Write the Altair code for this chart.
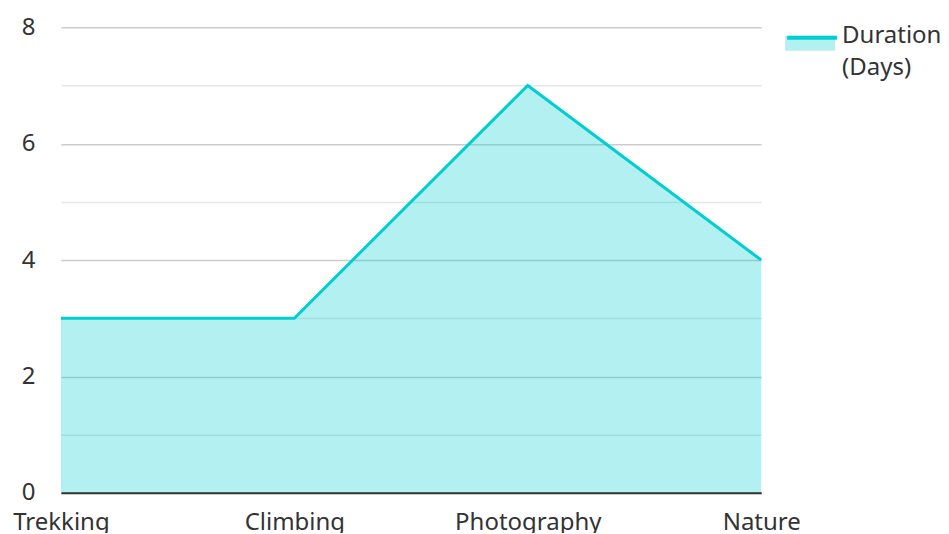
import altair as alt
import pandas as pd

categories = ["Trekking", "Climbing", "Photography", "Nature"]
durations = [3, 3, 7, 4]
series_name = "Duration (Days)"

df = pd.DataFrame({
    "Activity": categories,
    "Duration": durations,
    "Series": [series_name] * len(categories),
})

TEAL = "#00CED1"
FONT = "Noto Sans"
TEXT = "#333333"

x = alt.X(
    "Activity:N",
    sort=categories,
    scale=alt.Scale(type="point", padding=0),
    axis=alt.Axis(
        title=None, labelAngle=0, ticks=False, domain=True,
        domainColor="#333333", domainWidth=2, grid=False,
        labelPadding=18, labelFontSize=24, labelColor=TEXT, labelFont=FONT,
        zindex=1,
    ),
)
y = alt.Y(
    "Duration:Q",
    scale=alt.Scale(domain=[0, 8], nice=False),
    axis=alt.Axis(
        title=None, values=list(range(9)),
        labelExpr="datum.value % 2 == 0 ? datum.label : ''",
        gridColor=alt.condition("datum.value % 2 == 0", alt.value("#cccccc"), alt.value("#e6e6e6")),
        gridWidth=1.5,
        domain=False, ticks=False, labelPadding=26,
        labelFontSize=24, labelColor=TEXT, labelFont=FONT,
    ),
)

area = alt.Chart(df).mark_area(opacity=0.3, interpolate="linear").encode(
    x=x, y=y,
    fill=alt.Fill(
        "Series:N",
        scale=alt.Scale(range=[TEAL]),
        legend=alt.Legend(
            title=None, orient="none", legendX=725, legendY=-9,
            symbolType="M-1,-0.3H1V0.3H-1Z", symbolSize=2500,
            symbolStrokeWidth=0, symbolOpacity=0.3,
            labelExpr="split(datum.label, ' ')",
            labelFontSize=24, labelColor=TEXT, labelFont=FONT,
            labelBaseline="alphabetic", labelOffset=7, padding=0,
            labelLimit=200,
        ),
    ),
)

line = alt.Chart(df).mark_line(strokeWidth=3, interpolate="linear").encode(
    x=x, y=y,
    stroke=alt.Stroke(
        "Series:N",
        scale=alt.Scale(domain=[series_name], range=[TEAL]),
        legend=alt.Legend(
            title=None, orient="none", legendX=725, legendY=-9,
            symbolType="M-1,-0.3H1", symbolSize=2500, symbolStrokeWidth=4,
            labelOpacity=0, labelFontSize=24, labelFont=FONT,
            labelBaseline="alphabetic", labelOffset=7, padding=0,
        ),
    ),
)

chart = (
    alt.layer(area, line)
    .resolve_scale(fill="independent", stroke="independent")
    .properties(
        width=701, height=466,
        autosize=alt.AutoSizeParams(type="none"),
        padding={"left": 53, "top": 19, "right": 180, "bottom": 40},
    )
    .configure(font=FONT, style={"guide-label": {"lineHeight": 32}})
    .configure_view(strokeWidth=0, stroke="transparent")
)

chart.save("out.html", embed_options={"renderer": "svg", "actions": False})
